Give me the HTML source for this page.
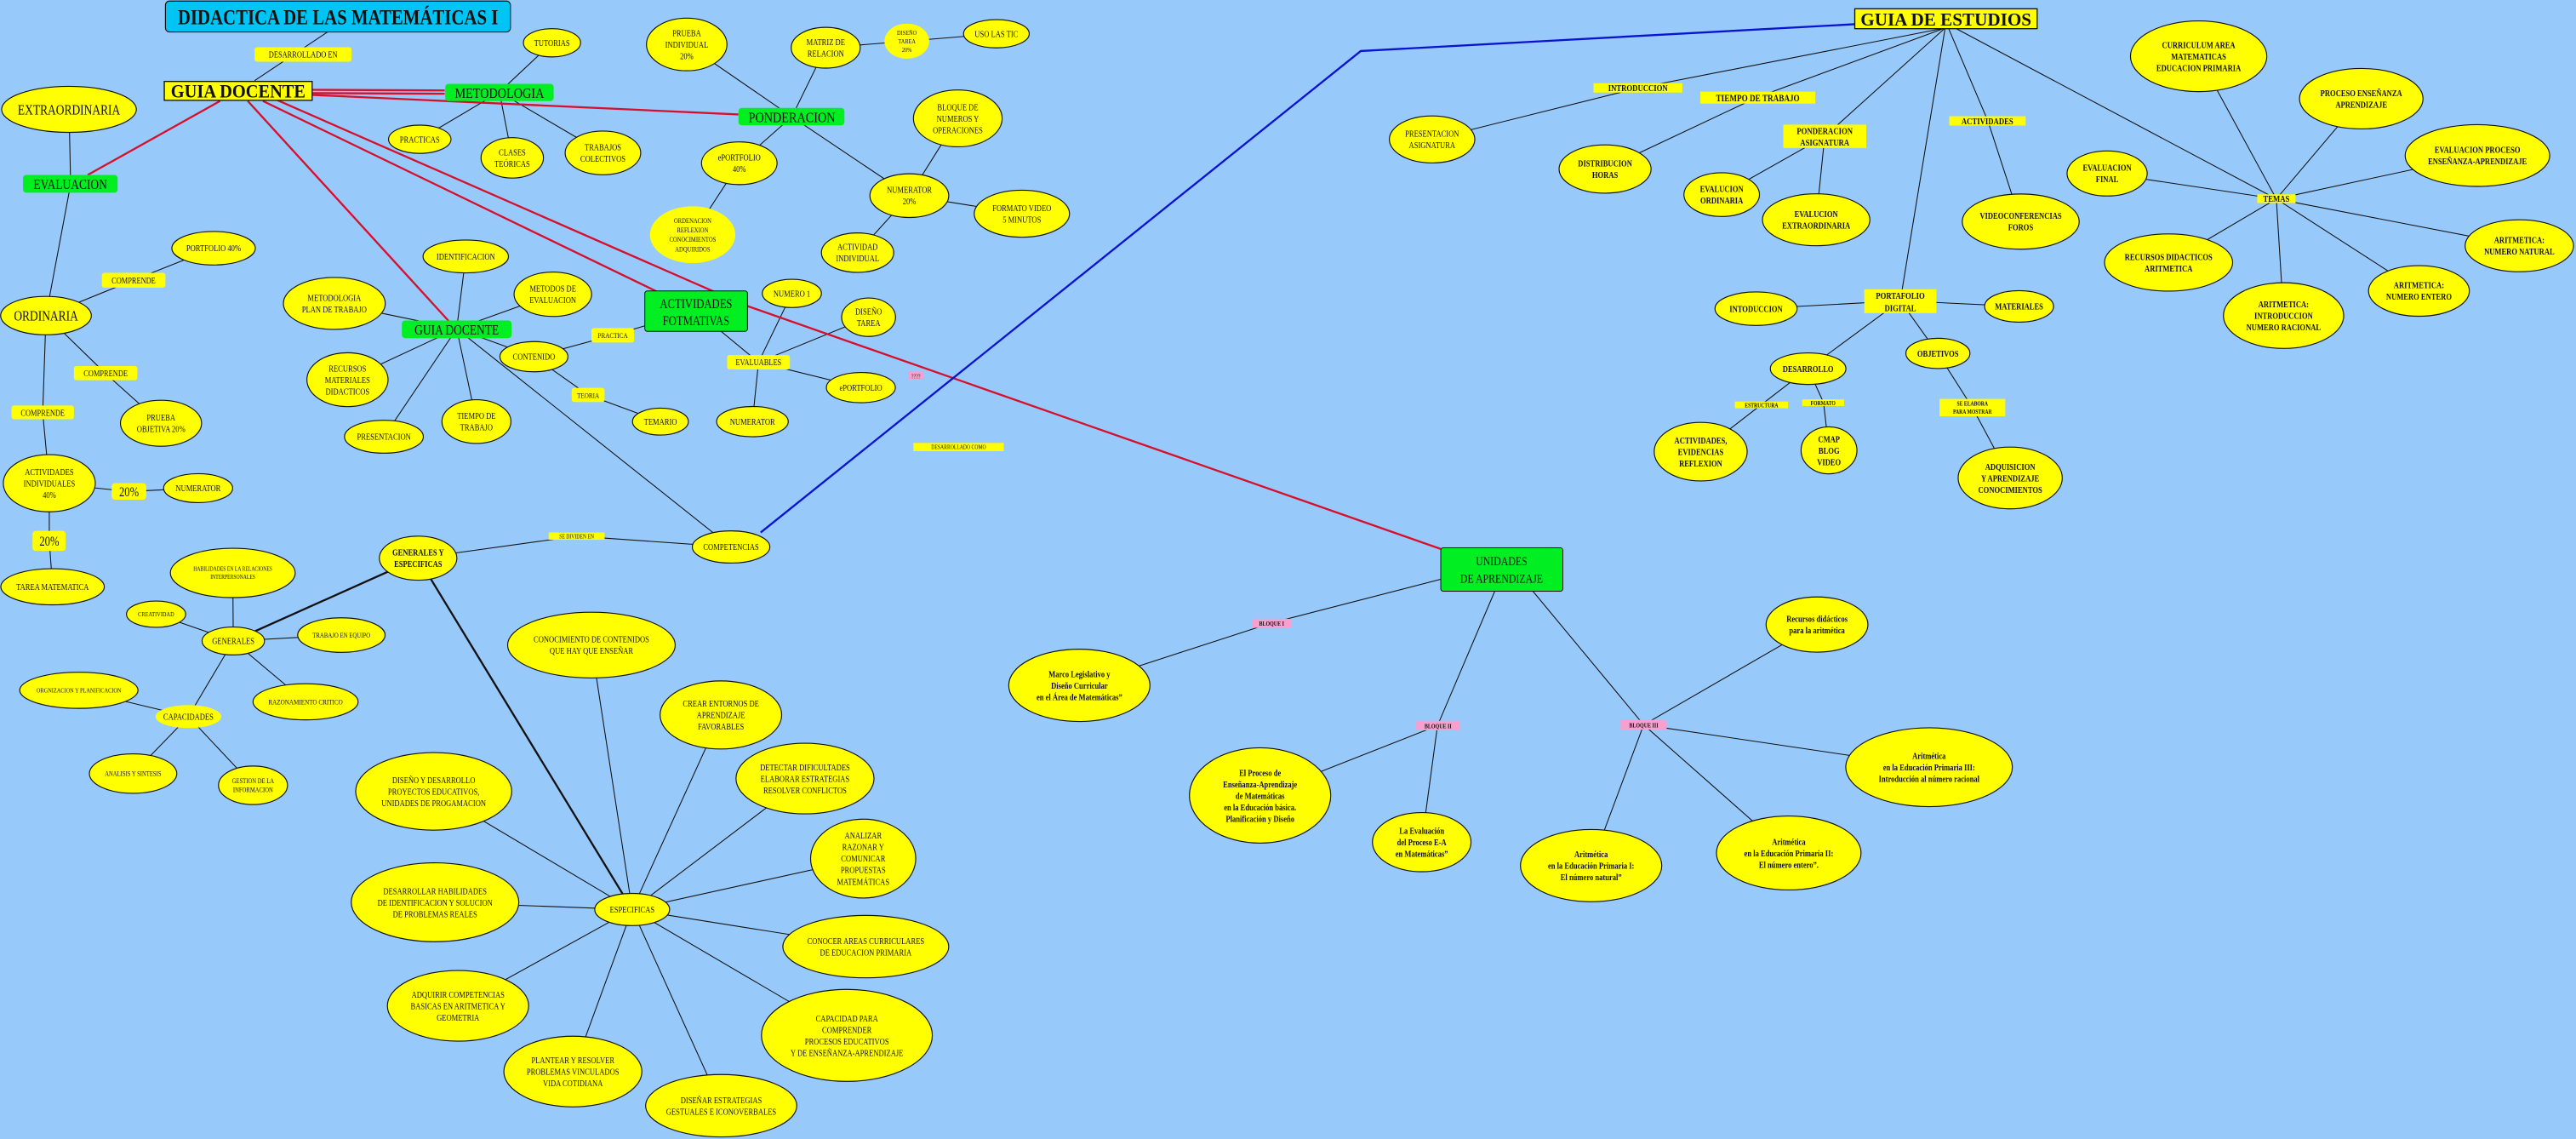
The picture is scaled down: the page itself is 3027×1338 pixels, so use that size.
<!DOCTYPE html>
<html><head><meta charset="utf-8">
<style>
html,body{margin:0;padding:0;background:#98c9fb;}
svg{display:block;}
text{font-family:"Liberation Serif",serif;text-anchor:middle;fill:#111;transform-box:fill-box;transform-origin:center;transform:scaleX(.82);}
.b{font-weight:bold;}
ellipse{fill:#ffff00;stroke:#111;stroke-width:.6;}
.ng{stroke:none;}
.l{stroke:#111;stroke-width:.55;fill:none;}
.tk{stroke:#111;stroke-width:1.2;fill:none;}
.r{stroke:#d6102c;stroke-width:1.2;fill:none;}
.bl{stroke:#0a14d0;stroke-width:1.2;fill:none;}
.y{fill:#ffff00;}
.p{fill:#f7a0cf;}
.g{fill:#00ee22;}
</style></head><body>
<svg width="3027" height="1338" viewBox="0 0 1568 693" xmlns="http://www.w3.org/2000/svg">
<rect x="0" y="0" width="1568" height="693" fill="#98c9fb"/>
<path class="l" d="M200 19L155 49
M304 56L336 26M304 56L255.5 84.7M304 56L311.8 96M304 56L367 93
M482 71L418 27M482 71L502.6 29M482 71L450 99.3M482 71L553.5 119
M502.6 29L552 25L606.5 20.5M450 99.3L421.6 142.8
M553.5 119L583 72M553.5 119L622 130M553.5 119L522 153.7
M42 66.5L43 112L28 192M28 192L81 170.5L130 151M28 192L64 227L98 257.5M28 192L26 251L30 294
M30 294L78.5 299L120.6 297M30 294L30 329L32 357
M278 200L203.5 184.6M278 200L283.5 156M278 200L336.5 179M278 200L211.5 231M278 200L233.7 265.7M278 200L290 256.5M278 200L325 217M278 200L445 332.8
M325 217L373 204L423.7 189M325 217L358 240.3L402 256.5
M423.7 189L461.7 220.4M461.7 220.4L482 178.5M461.7 220.4L528.7 193M461.7 220.4L524 235.8M461.7 220.4L458 256.5
M254.5 339.6L351 326.2L445 332.8
M141.7 348.6L142 390M95 373.7L142 390M142 390L207.8 386.4M142 390L186 427M142 390L114.7 436M114.7 436L48 420M114.7 436L81 470.7M114.7 436L154 477.8
M384.8 553.4L360 392.5M384.8 553.4L438.8 435M384.8 553.4L490 473.7M384.8 553.4L525.4 522.4M384.8 553.4L527 576M384.8 553.4L515.5 630M384.8 553.4L439 672.8M384.8 553.4L348.7 652M384.8 553.4L278.8 612M384.8 553.4L264.8 549M384.8 553.4L264 481.5
M1184 17L997 53.5L871.7 84.8M1184 17L1070 59L977 102.8M1184 17L1110.7 83M1110.7 83L1048 118.4M1110.7 83L1105.5 133.7
M1184 17L1156.7 183M1186 17L1210 73.5L1230 134.8M1190 17L1385.6 121
M1385.6 121L1338.3 34.2M1385.6 121L1437.3 60M1385.6 121L1508 94.6M1385.6 121L1282.6 105.5M1385.6 121L1533.5 149.5M1385.6 121L1472.4 177M1385.6 121L1390 192M1385.6 121L1320 159.7
M1156.7 183L1068.9 187.8M1156.7 183L1229 186.4M1156.7 183L1100.6 224.3M1156.7 183L1179.6 215
M1100.6 224.3L1072 246.3L1035.2 274.8M1100.6 224.3L1110 245L1113.3 274M1179.6 215L1200.6 248L1223.6 290.8
M900 346.5L774 379L657 417M914 350L875 441.5L767 484M875 441.5L865.4 512.4
M925 350L1000.5 441L968.5 526.7M1000.5 441L1088.8 519M1000.5 441L1174.2 466.8M1000.5 441L1106 380"/>
<path class="tk" d="M142 390L254.5 339.6M254.5 339.6L384.8 553.4"/>
<path class="r" d="M190 54.6L270.7 55M190 56.6L270.7 57M190 57.7L449.5 69.6M134 61.4L53.4 106.4M150.8 61.4L273.3 195.5M160 61.4L399.7 177.3M169 61L434.3 177.3L455.3 186.3L877 334"/>
<path class="bl" d="M463 324L828.3 31L1129 14.7"/>

<rect x="100.7" y="0.6" width="210" height="18.8" rx="2.5" fill="#00c4f4" stroke="#111" stroke-width=".6"/>
<text x="205.7" y="14.8" font-size="13" class="b" textLength="195" lengthAdjust="spacingAndGlyphs" style="transform:none">DIDACTICA DE LAS MATEMÁTICAS I</text>
<rect x="100" y="49.5" width="90" height="11.5" class="y" stroke="#111" stroke-width=".7"/>
<text x="145" y="59.3" font-size="11.5" class="b" textLength="82" lengthAdjust="spacingAndGlyphs" style="transform:none">GUIA DOCENTE</text>
<rect x="1129" y="5.3" width="111" height="12.1" class="y" stroke="#111" stroke-width=".7"/>
<text x="1184.5" y="15.4" font-size="11" class="b" textLength="104" lengthAdjust="spacingAndGlyphs" style="transform:none">GUIA DE ESTUDIOS</text>

<rect x="271" y="51" width="66" height="10.5" rx="2" class="g"/><text x="304" y="59.6" font-size="9">METODOLOGIA</text>
<rect x="449.5" y="65.6" width="64.5" height="10.6" rx="2" class="g"/><text x="482" y="74.3" font-size="9">PONDERACION</text>
<rect x="14" y="106.4" width="57.6" height="10.8" rx="2" class="g"/><text x="42.8" y="115" font-size="8.5">EVALUACION</text>
<rect x="244.6" y="195" width="66.8" height="10.7" rx="2" class="g"/><text x="278" y="203.6" font-size="8.5">GUIA DOCENTE</text>
<rect x="392.5" y="177" width="62.5" height="24.6" rx="1.5" class="g" stroke="#111" stroke-width=".5"/>
<text x="423.7" y="187.6" font-size="8">ACTIVIDADES</text><text x="423.7" y="197.8" font-size="8">FOTMATIVAS</text>
<rect x="877" y="333.3" width="74.3" height="26.4" rx="1.5" class="g" stroke="#111" stroke-width=".5"/>
<text x="914" y="344" font-size="7.5">UNIDADES</text><text x="914" y="354.6" font-size="7.5">DE APRENDIZAJE</text>

<rect x="155" y="28.7" width="59" height="8.8" rx="1.5" class="y"/><text x="184.5" y="35" font-size="5.3">DESARROLLADO EN</text>
<rect x="62" y="166" width="38.7" height="9" rx="1.5" class="y"/><text x="81.3" y="172.5" font-size="5.3">COMPRENDE</text>
<rect x="45" y="222.7" width="38.6" height="8.6" rx="1.5" class="y"/><text x="64.3" y="229" font-size="5.3">COMPRENDE</text>
<rect x="7" y="246.7" width="38" height="8.4" rx="1.5" class="y"/><text x="26" y="253" font-size="5.3">COMPRENDE</text>
<rect x="68" y="294" width="21" height="10" rx="2" class="y"/><text x="78.5" y="302" font-size="8">20%</text>
<rect x="19.8" y="323" width="20.2" height="12.2" rx="2" class="y"/><text x="30" y="332" font-size="8">20%</text>
<rect x="360" y="199.6" width="26" height="8.8" rx="1.5" class="y"/><text x="373" y="205.7" font-size="4.5">PRACTICA</text>
<rect x="348" y="236" width="20" height="8.6" rx="1.5" class="y"/><text x="358" y="242" font-size="4.5">TEORIA</text>
<rect x="442.6" y="216" width="38.2" height="8.8" rx="1.5" class="y"/><text x="461.7" y="222.3" font-size="5.3">EVALUABLES</text>
<rect x="553" y="226" width="9" height="5" class="p"/><text x="557.5" y="230.3" font-size="3.8">????</text>
<rect x="334" y="324" width="34" height="4.4" class="y"/><text x="351" y="327.5" font-size="3.6">SE DIVIDEN EN</text>
<rect x="556" y="269.5" width="55" height="5" class="y"/><text x="583.5" y="273.3" font-size="3.6">DESARROLLADO COMO</text>
<rect x="970" y="50.6" width="54" height="5.7" class="y"/><text x="997" y="55.4" font-size="5.5" class="b">INTRODUCCION</text>
<rect x="1035" y="55.7" width="70" height="7.3" class="y"/><text x="1070" y="61.6" font-size="5.8" class="b">TIEMPO DE TRABAJO</text>
<rect x="1085.5" y="75.8" width="50.5" height="14.2" class="y"/><text x="1110.7" y="81.6" font-size="5.5" class="b">PONDERACION</text><text x="1110.7" y="88.5" font-size="5.5" class="b">ASIGNATURA</text>
<rect x="1186.5" y="70.7" width="46.5" height="5.7" class="y"/><text x="1209.7" y="75.5" font-size="5.5" class="b">ACTIVIDADES</text>
<rect x="1134.8" y="176" width="43.9" height="14.5" class="y"/><text x="1156.7" y="181.7" font-size="5.5" class="b">PORTAFOLIO</text><text x="1156.7" y="189.2" font-size="5.5" class="b">DIGITAL</text>
<rect x="1374" y="118.2" width="23.3" height="5.3" class="y"/><text x="1385.6" y="122.8" font-size="5.5" class="b">TEMAS</text>
<rect x="1056" y="244.3" width="32.4" height="4.1" class="y"/><text x="1072.2" y="247.7" font-size="3.6" class="b">ESTRUCTURA</text>
<rect x="1097" y="243" width="25.5" height="4" class="y"/><text x="1109.7" y="246.4" font-size="3.6" class="b">FORMATO</text>
<rect x="1180.6" y="242.7" width="40" height="10.6" class="y"/><text x="1200.6" y="246.9" font-size="3.6" class="b">SE ELABORA</text><text x="1200.6" y="251.8" font-size="3.6" class="b">PARA MOSTRAR</text>
<rect x="762.3" y="376.5" width="23.7" height="5.5" class="p"/><text x="774" y="380.8" font-size="3.8" class="b">BLOQUE I</text>
<rect x="862" y="438.6" width="26.6" height="5.7" class="p"/><text x="875.3" y="443" font-size="3.8" class="b">BLOQUE II</text>
<rect x="986.5" y="438" width="28" height="6" class="p"/><text x="1000.5" y="442.5" font-size="3.8" class="b">BLOQUE III</text>

<g font-size="5.4">
<ellipse cx="336" cy="26" rx="17.4" ry="8.6"/><text x="336" y="27.9">TUTORIAS</text>
<ellipse cx="255.5" cy="84.7" rx="19" ry="8.6"/><text x="255.5" y="86.6">PRACTICAS</text>
<ellipse cx="311.8" cy="96" rx="19" ry="12.3"/><text x="311.8" y="94.4">CLASES</text><text x="311.8" y="101.4">TEÓRICAS</text>
<ellipse cx="367" cy="93" rx="23" ry="13.3"/><text x="367" y="91.4">TRABAJOS</text><text x="367" y="98.4">COLECTIVOS</text>
<ellipse cx="418" cy="27" rx="24.5" ry="16"/><text x="418" y="22">PRUEBA</text><text x="418" y="29">INDIVIDUAL</text><text x="418" y="36">20%</text>
<ellipse cx="502.6" cy="29" rx="21" ry="12.4"/><text x="502.6" y="27.4">MATRIZ DE</text><text x="502.6" y="34.4">RELACION</text>
<ellipse class="ng" cx="552" cy="25" rx="13.6" ry="10.7"/><text x="552" y="21.3" font-size="4">DISEÑO</text><text x="552" y="26.4" font-size="4">TAREA</text><text x="552" y="31.5" font-size="4">20%</text>
<ellipse cx="606.5" cy="20.5" rx="20" ry="8.6"/><text x="606.5" y="22.4">USO LAS TIC</text>
<ellipse cx="450" cy="99.3" rx="23" ry="13"/><text x="450" y="97.7">ePORTFOLIO</text><text x="450" y="104.7">40%</text>
<ellipse class="ng" cx="421.6" cy="142.8" rx="26" ry="17.3"/><g font-size="4.2"><text x="421.6" y="135.6">ORDENACION</text><text x="421.6" y="141.4">REFLEXION</text><text x="421.6" y="147.2">CONOCIMIENTOS</text><text x="421.6" y="153">ADQUIRIDOS</text></g>
<ellipse cx="583" cy="72" rx="27" ry="17.3"/><text x="583" y="67">BLOQUE DE</text><text x="583" y="74">NUMEROS Y</text><text x="583" y="81">OPERACIONES</text>
<ellipse cx="553.5" cy="119" rx="24" ry="13.3"/><text x="553.5" y="117.4">NUMERATOR</text><text x="553.5" y="124.4">20%</text>
<ellipse cx="622" cy="130" rx="29" ry="14.3"/><text x="622" y="128.4">FORMATO VIDEO</text><text x="622" y="135.4">5 MINUTOS</text>
<ellipse cx="522" cy="153.7" rx="22" ry="12"/><text x="522" y="152.1">ACTIVIDAD</text><text x="522" y="159.1">INDIVIDUAL</text>
<ellipse cx="42" cy="66.5" rx="41" ry="14"/><text x="42" y="69.5" font-size="8.5">EXTRAORDINARIA</text>
<ellipse cx="28" cy="192" rx="27.6" ry="11.7"/><text x="28" y="195" font-size="8.5">ORDINARIA</text>
<ellipse cx="130" cy="151" rx="25.4" ry="10.2"/><text x="130" y="152.9">PORTFOLIO 40%</text>
<ellipse cx="98" cy="257.5" rx="24.7" ry="14"/><text x="98" y="255.9">PRUEBA</text><text x="98" y="262.9">OBJETIVA 20%</text>
<ellipse cx="30" cy="294" rx="28" ry="17.4"/><text x="30" y="289">ACTIVIDADES</text><text x="30" y="296">INDIVIDUALES</text><text x="30" y="303">40%</text>
<ellipse cx="120.6" cy="297" rx="21" ry="8.8"/><text x="120.6" y="298.9">NUMERATOR</text>
<ellipse cx="283.5" cy="156" rx="26" ry="10"/><text x="283.5" y="157.9">IDENTIFICACION</text>
<ellipse cx="203.5" cy="184.6" rx="31" ry="15.8"/><text x="203.5" y="183">METODOLOGIA</text><text x="203.5" y="190">PLAN DE TRABAJO</text>
<ellipse cx="336.5" cy="179" rx="23.6" ry="13.5"/><text x="336.5" y="177.4">METODOS DE</text><text x="336.5" y="184.4">EVALUACION</text>
<ellipse cx="211.5" cy="231" rx="24.7" ry="16.4"/><text x="211.5" y="226">RECURSOS</text><text x="211.5" y="233">MATERIALES</text><text x="211.5" y="240">DIDACTICOS</text>
<ellipse cx="233.7" cy="265.7" rx="24" ry="10"/><text x="233.7" y="267.6">PRESENTACION</text>
<ellipse cx="290" cy="256.5" rx="21" ry="13.3"/><text x="290" y="254.9">TIEMPO DE</text><text x="290" y="261.9">TRABAJO</text>
<ellipse cx="325" cy="217" rx="20.7" ry="9.2"/><text x="325" y="218.9">CONTENIDO</text>
<ellipse cx="402" cy="256.5" rx="17" ry="8.2"/><text x="402" y="258.4">TEMARIO</text>
<ellipse cx="482" cy="178.5" rx="18" ry="8.6"/><text x="482" y="180.4">NUMERO 1</text>
<ellipse cx="528.7" cy="193" rx="16.4" ry="11.7"/><text x="528.7" y="191.4">DISEÑO</text><text x="528.7" y="198.4">TAREA</text>
<ellipse cx="524" cy="235.8" rx="21" ry="9.2"/><text x="524" y="237.7">ePORTFOLIO</text>
<ellipse cx="458" cy="256.5" rx="21.8" ry="9.2"/><text x="458" y="258.4">NUMERATOR</text>
<ellipse cx="445" cy="332.8" rx="23.6" ry="9.8"/><text x="445" y="334.7">COMPETENCIAS</text>
<ellipse cx="32" cy="357" rx="31.5" ry="11"/><text x="32" y="358.9">TAREA MATEMATICA</text>
<ellipse cx="254.5" cy="339.6" rx="23.6" ry="13.4"/><text x="254.5" y="338" class="b">GENERALES Y</text><text x="254.5" y="345" class="b">ESPECIFICAS</text>
<ellipse cx="141.7" cy="348.6" rx="38" ry="15"/><text x="141.7" y="347.3" font-size="3.6">HABILIDADES EN LA RELACIONES</text><text x="141.7" y="352.3" font-size="3.6">INTERPERSONALES</text>
<ellipse cx="95" cy="373.7" rx="18" ry="8"/><text x="95" y="375.1" font-size="4">CREATIVIDAD</text>
<ellipse cx="142" cy="390" rx="19" ry="8.5"/><text x="142" y="391.9">GENERALES</text>
<ellipse cx="207.8" cy="386.4" rx="26.6" ry="10.5"/><text x="207.8" y="387.9" font-size="4.3">TRABAJO EN EQUIPO</text>
<ellipse cx="48" cy="420" rx="36" ry="11"/><text x="48" y="421.4" font-size="4">ORGNIZACION Y PLANIFICACION</text>
<ellipse class="ng" cx="114.7" cy="436" rx="20" ry="7"/><text x="114.7" y="437.9">CAPACIDADES</text>
<ellipse cx="186" cy="427" rx="32" ry="11"/><text x="186" y="428.6" font-size="4.5">RAZONAMIENTO CRITICO</text>
<ellipse cx="81" cy="470.7" rx="26.6" ry="12"/><text x="81" y="472.2" font-size="4.2">ANALISIS Y SINTESIS</text>
<ellipse cx="154" cy="477.8" rx="21" ry="11.7"/><text x="154" y="476.5" font-size="4.2">GESTION DE LA</text><text x="154" y="482" font-size="4.2">INFORMACION</text>
<ellipse cx="384.8" cy="553.4" rx="22.8" ry="9.8"/><text x="384.8" y="555.3">ESPECIFICAS</text>
<ellipse cx="360" cy="392.5" rx="51" ry="20"/><text x="360" y="390.9">CONOCIMIENTO DE CONTENIDOS</text><text x="360" y="397.9">QUE HAY QUE ENSEÑAR</text>
<ellipse cx="438.8" cy="435" rx="37" ry="20.7"/><text x="438.8" y="430">CREAR ENTORNOS DE</text><text x="438.8" y="437">APRENDIZAJE</text><text x="438.8" y="444">FAVORABLES</text>
<ellipse cx="490" cy="473.7" rx="42" ry="21.5"/><text x="490" y="468.7">DETECTAR DIFICULTADES</text><text x="490" y="475.7">ELABORAR ESTRATEGIAS</text><text x="490" y="482.7">RESOLVER CONFLICTOS</text>
<ellipse cx="525.4" cy="522.4" rx="32" ry="24"/><text x="525.4" y="510.3">ANALIZAR</text><text x="525.4" y="517.3">RAZONAR Y</text><text x="525.4" y="524.3">COMUNICAR</text><text x="525.4" y="531.3">PROPUESTAS</text><text x="525.4" y="538.3">MATEMÁTICAS</text>
<ellipse cx="527" cy="576" rx="50.5" ry="19"/><text x="527" y="574.4">CONOCER AREAS CURRICULARES</text><text x="527" y="581.4">DE EDUCACION PRIMARIA</text>
<ellipse cx="515.5" cy="630" rx="52" ry="28"/><text x="515.5" y="621.5">CAPACIDAD PARA</text><text x="515.5" y="628.5">COMPRENDER</text><text x="515.5" y="635.5">PROCESOS EDUCATIVOS</text><text x="515.5" y="642.5">Y DE ENSEÑANZA-APRENDIZAJE</text>
<ellipse cx="439" cy="672.8" rx="46" ry="19"/><text x="439" y="671.2">DISEÑAR ESTRATEGIAS</text><text x="439" y="678.2">GESTUALES E ICONOVERBALES</text>
<ellipse cx="348.7" cy="652" rx="42" ry="21.5"/><text x="348.7" y="647">PLANTEAR Y RESOLVER</text><text x="348.7" y="654">PROBLEMAS VINCULADOS</text><text x="348.7" y="661">VIDA COTIDIANA</text>
<ellipse cx="278.8" cy="612" rx="43" ry="21.5"/><text x="278.8" y="607">ADQUIRIR COMPETENCIAS</text><text x="278.8" y="614">BASICAS EN ARITMETICA Y</text><text x="278.8" y="621">GEOMETRIA</text>
<ellipse cx="264.8" cy="549" rx="51" ry="24"/><text x="264.8" y="544">DESARROLLAR HABILIDADES</text><text x="264.8" y="551">DE IDENTIFICACION Y SOLUCION</text><text x="264.8" y="558">DE PROBLEMAS REALES</text>
<ellipse cx="264" cy="481.5" rx="47.5" ry="23.6"/><text x="264" y="476.5">DISEÑO Y DESARROLLO</text><text x="264" y="483.5">PROYECTOS EDUCATIVOS,</text><text x="264" y="490.5">UNIDADES DE PROGAMACION</text>
</g>

<g font-size="5.4" class="b">
<ellipse cx="871.7" cy="84.8" rx="26" ry="14.3"/><text x="871.7" y="83.2" font-weight="normal">PRESENTACION</text><text x="871.7" y="90.2" font-weight="normal">ASIGNATURA</text>
<ellipse cx="977" cy="102.8" rx="28" ry="14.7"/><text x="977" y="101.2">DISTRIBUCION</text><text x="977" y="108.2">HORAS</text>
<ellipse cx="1048" cy="118.4" rx="23" ry="13.3"/><text x="1048" y="116.8">EVALUCION</text><text x="1048" y="123.8">ORDINARIA</text>
<ellipse cx="1105.5" cy="133.7" rx="32.7" ry="15.8"/><text x="1105.5" y="132.1">EVALUCION</text><text x="1105.5" y="139.1">EXTRAORDINARIA</text>
<ellipse cx="1230" cy="134.8" rx="35.6" ry="16.8"/><text x="1230" y="133.2">VIDEOCONFERENCIAS</text><text x="1230" y="140.2">FOROS</text>
<ellipse cx="1068.9" cy="187.8" rx="25" ry="10.2"/><text x="1068.9" y="189.7">INTODUCCION</text>
<ellipse cx="1229" cy="186.4" rx="21" ry="9.6"/><text x="1229" y="188.3">MATERIALES</text>
<ellipse cx="1100.6" cy="224.3" rx="23" ry="9.6"/><text x="1100.6" y="226.2">DESARROLLO</text>
<ellipse cx="1179.6" cy="215" rx="19.5" ry="9.2"/><text x="1179.6" y="216.9">OBJETIVOS</text>
<ellipse cx="1035.2" cy="274.8" rx="28.3" ry="17.8"/><text x="1035.2" y="269.8">ACTIVIDADES,</text><text x="1035.2" y="276.8">EVIDENCIAS</text><text x="1035.2" y="283.8">REFLEXION</text>
<ellipse cx="1113.3" cy="274" rx="17" ry="14.3"/><text x="1113.3" y="269">CMAP</text><text x="1113.3" y="276">BLOG</text><text x="1113.3" y="283">VIDEO</text>
<ellipse cx="1223.6" cy="290.8" rx="31.7" ry="18.8"/><text x="1223.6" y="285.8">ADQUISICION</text><text x="1223.6" y="292.8">Y APRENDIZAJE</text><text x="1223.6" y="299.8">CONOCIMIENTOS</text>
<ellipse cx="1338.3" cy="34.2" rx="41.5" ry="21.5"/><text x="1338.3" y="29.2">CURRICULUM AREA</text><text x="1338.3" y="36.2">MATEMATICAS</text><text x="1338.3" y="43.2">EDUCACION PRIMARIA</text>
<ellipse cx="1437.3" cy="60" rx="37.6" ry="18.4"/><text x="1437.3" y="58.4">PROCESO ENSEÑANZA</text><text x="1437.3" y="65.4">APRENDIZAJE</text>
<ellipse cx="1508" cy="94.6" rx="44" ry="18.8"/><text x="1508" y="93">EVALUACION PROCESO</text><text x="1508" y="100">ENSEÑANZA-APRENDIZAJE</text>
<ellipse cx="1282.6" cy="105.5" rx="24.4" ry="13.7"/><text x="1282.6" y="103.9">EVALUACION</text><text x="1282.6" y="110.9">FINAL</text>
<ellipse cx="1533.5" cy="149.5" rx="33" ry="15.8"/><text x="1533.5" y="147.9">ARITMETICA:</text><text x="1533.5" y="154.9">NUMERO NATURAL</text>
<ellipse cx="1472.4" cy="177" rx="30.7" ry="15.4"/><text x="1472.4" y="175.4">ARITMETICA:</text><text x="1472.4" y="182.4">NUMERO ENTERO</text>
<ellipse cx="1390" cy="192" rx="36.6" ry="20"/><text x="1390" y="187">ARITMETICA:</text><text x="1390" y="194">INTRODUCCION</text><text x="1390" y="201">NUMERO RACIONAL</text>
<ellipse cx="1320" cy="159.7" rx="39" ry="17.4"/><text x="1320" y="158.1">RECURSOS DIDACTICOS</text><text x="1320" y="165.1">ARITMETICA</text>
<ellipse cx="657" cy="417" rx="43" ry="22"/><text x="657" y="412">Marco Legislativo y</text><text x="657" y="419">Diseño Curricular</text><text x="657" y="426">en el Área de Matemáticas”</text>
<ellipse cx="767" cy="484" rx="43" ry="29"/><text x="767" y="472">El Proceso de</text><text x="767" y="479">Enseñanza-Aprendizaje</text><text x="767" y="486">de Matemáticas</text><text x="767" y="493">en la Educación básica.</text><text x="767" y="500">Planificación y Diseño</text>
<ellipse cx="865.4" cy="512.4" rx="30" ry="18"/><text x="865.4" y="507.4">La Evaluación</text><text x="865.4" y="514.4">del Proceso E-A</text><text x="865.4" y="521.4">en Matemáticas”</text>
<ellipse cx="968.5" cy="526.7" rx="43" ry="22"/><text x="968.5" y="521.7">Aritmética</text><text x="968.5" y="528.7">en la Educación Primaria I:</text><text x="968.5" y="535.7">El número natural”</text>
<ellipse cx="1088.8" cy="519" rx="44" ry="22.5"/><text x="1088.8" y="514">Aritmética</text><text x="1088.8" y="521">en la Educación Primaria II:</text><text x="1088.8" y="528">El número entero”.</text>
<ellipse cx="1174.2" cy="466.8" rx="50.7" ry="24"/><text x="1174.2" y="461.8">Aritmética</text><text x="1174.2" y="468.8">en la Educación Primaria III:</text><text x="1174.2" y="475.8">Introducción al número racional</text>
<ellipse cx="1106" cy="380" rx="31" ry="16.8"/><text x="1106" y="378.4">Recursos didácticos</text><text x="1106" y="385.4">para la aritmética</text>
</g>
</svg>
</body></html>
